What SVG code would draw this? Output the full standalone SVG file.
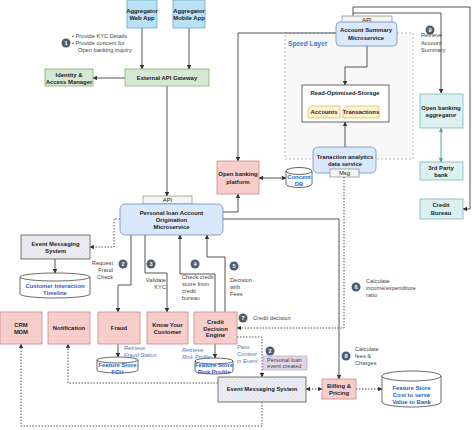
<svg xmlns="http://www.w3.org/2000/svg" width="474" height="430" viewBox="0 0 474 430">
<defs>
<style>
text{font-family:"Liberation Sans",Arial,sans-serif;}
.lbl{font-size:5.9px;font-weight:bold;fill:#222;text-anchor:middle;}
.ann{font-size:5.7px;fill:#444;}
.it{font-size:5.7px;fill:#4a7ebb;font-style:italic;}
.blu{font-size:5.9px;font-weight:bold;fill:#1f63c6;text-anchor:middle;}
.bt{font-size:5.6px;font-weight:bold;fill:#fff;text-anchor:middle;}
.bd{fill:#4f5d6e;}
.ln{fill:none;stroke:#555;stroke-width:1;}
.dt{fill:none;stroke:#555;stroke-width:1;stroke-dasharray:1.5,1.5;}
.pink{fill:#f8cecc;stroke:#c98a88;stroke-width:0.8;}
.green{fill:#d5e8d4;stroke:#82b366;stroke-width:0.8;}
.lb{fill:#dae8fc;stroke:#6c8ebf;stroke-width:0.8;}
.agg{fill:#b9e0f5;stroke:#6aa7c9;stroke-width:0.8;}
.teal{fill:url(#hatchT);stroke:#7fb5b5;stroke-width:0.8;}
.gray{fill:url(#hatchG);stroke:#666;stroke-width:0.9;}
.tab{fill:#f5f5f5;stroke:#888;stroke-width:0.7;}
.cyl{fill:#fff;stroke:#444;stroke-width:0.8;}
.note{fill:#fff2cc;stroke:#d6b656;stroke-width:0.7;}
</style>
<pattern id="hatchG" width="3" height="3" patternUnits="userSpaceOnUse" patternTransform="rotate(45)">
<rect width="3" height="3" fill="#ededf3"/><line x1="0" y1="0" x2="0" y2="3" stroke="#d2d2de" stroke-width="0.8"/>
</pattern>
<pattern id="hatchT" width="3" height="3" patternUnits="userSpaceOnUse" patternTransform="rotate(45)">
<rect width="3" height="3" fill="#def2f2"/><line x1="0" y1="0" x2="0" y2="3" stroke="#cbe8e8" stroke-width="0.8"/>
</pattern>
<marker id="ar" viewBox="0 0 6 6" refX="5.5" refY="3" markerWidth="4.5" markerHeight="4.5" markerUnits="userSpaceOnUse" orient="auto-start-reverse">
<path d="M0,0 L6,3 L0,6 z" fill="#333"/>
</marker>
<marker id="art" viewBox="0 0 6 6" refX="5.5" refY="3" markerWidth="4.5" markerHeight="4.5" markerUnits="userSpaceOnUse" orient="auto-start-reverse">
<path d="M0,0 L6,3 L0,6 z" fill="#5aa39a"/>
</marker>
</defs>
<rect width="474" height="430" fill="#fff"/>

<g id="speed-layer">
<rect x="285" y="33" width="128" height="126" fill="#f8f8f8" stroke="#aaa" stroke-width="0.8" stroke-dasharray="2,2"/>
<text x="288" y="45.5" style="font-size:6.6px;font-weight:bold;fill:#3d7cc9">Speed Layer</text>
</g>

<g id="connectors">
<path class="ln" d="M142,28 V69" marker-end="url(#ar)"/>
<path class="ln" d="M189,28 V69" marker-end="url(#ar)"/>
<path class="ln" d="M125,78 H93" marker-end="url(#ar)"/>
<path class="ln" d="M167,86 V196" marker-end="url(#ar)"/>
<path class="ln" d="M336,33 H238 V161" marker-end="url(#ar)"/>
<path class="ln" d="M353,16 V7 H470 V209 H463" marker-end="url(#ar)"/>
<path class="ln" d="M353,13 H441 V93" marker-end="url(#ar)"/>
<path class="ln" d="M367,46 V67 H345 V85" marker-end="url(#ar)"/>
<path class="ln" d="M345,147 V122" marker-end="url(#ar)"/>
<path d="M441,128 V162" fill="none" stroke="#5aa39a" stroke-width="1" marker-start="url(#art)" marker-end="url(#art)"/>
<path class="ln" d="M259,178 H286" marker-start="url(#ar)" marker-end="url(#ar)"/>
<path class="ln" d="M223,212 H238 V194" marker-end="url(#ar)"/>
<path class="ln" d="M223,219 H339 V379" marker-end="url(#ar)"/>
<path class="dt" d="M120,219 H114 V247 H90" marker-end="url(#ar)"/>
<path class="ln" d="M55,259 V273" marker-end="url(#ar)"/>
<path class="ln" d="M131,235 V285 H118 V312" marker-end="url(#ar)"/>
<path class="ln" d="M145,235 V273 H167 V312" marker-end="url(#ar)"/>
<path class="ln" d="M215,312 V274 H180 V235" marker-end="url(#ar)"/>
<path class="ln" d="M225,312 V257 H207 V235" marker-end="url(#ar)"/>
<path class="dt" d="M344,177 V328 H237" marker-end="url(#ar)"/>
<path class="ln" d="M118,344 V357" marker-end="url(#ar)"/>
<path class="ln" d="M215,344 V358" marker-end="url(#ar)"/>
<path class="dt" d="M237,337 H262 V377" marker-end="url(#ar)"/>
<path class="dt" d="M306,389 H322" marker-start="url(#ar)" marker-end="url(#ar)"/>
<path class="dt" d="M356,389 H382" marker-end="url(#ar)"/>
<path class="dt" d="M262,402 V426 H21 V344" marker-end="url(#ar)"/>
<path class="dt" d="M218,383 H68 V344" marker-end="url(#ar)"/>
</g>

<g id="aggregator-web-app">
<rect class="agg" x="127" y="0" width="30" height="28"/>
<text class="lbl" x="142" y="13">Aggregator</text>
<text class="lbl" x="142" y="20">Web App</text>
</g>
<g id="aggregator-mobile-app">
<rect class="agg" x="173" y="0" width="32" height="28"/>
<text class="lbl" x="189" y="13">Aggregator</text>
<text class="lbl" x="189" y="20">Mobile App</text>
</g>

<g id="step1">
<circle class="bd" cx="66" cy="43" r="4.5"/><text class="bt" x="66" y="45">1</text>
<text class="ann" x="72" y="38">•  Provide KYC Details</text>
<text class="ann" x="72" y="45">•  Provide concent for</text>
<text class="ann" x="78" y="52">Open banking inquiry</text>
</g>

<g id="identity-access-manager">
<rect class="green" x="45" y="69" width="48" height="17"/>
<text class="lbl" x="69" y="76.5">Identity &amp;</text>
<text class="lbl" x="69" y="83.5">Access Manager</text>
</g>
<g id="external-api-gateway">
<rect class="green" x="125" y="69" width="84" height="17"/>
<text class="lbl" x="167" y="80">External API Gateway</text>
</g>

<g id="account-summary-microservice">
<rect class="tab" x="342" y="16" width="50" height="8"/>
<text class="lbl" x="367" y="22" style="font-weight:normal">API</text>
<rect class="lb" x="336" y="22" width="61" height="24" rx="4"/>
<text class="lbl" x="366" y="32">Account Summary</text>
<text class="lbl" x="366" y="39.5">Microservice</text>
</g>

<g id="step9">
<circle class="bd" cx="430" cy="30" r="4.5"/><text class="bt" x="430" y="32">9</text>
<text class="ann" x="421" y="37">Retrieve</text>
<text class="ann" x="421" y="45">Account</text>
<text class="ann" x="421" y="52">Summary</text>
</g>

<g id="read-optimised-storage">
<rect x="302" y="85" width="87" height="37" fill="#fff" stroke="#444" stroke-width="0.8"/>
<text class="lbl" x="345" y="94.5">Read-Optimised-Storage</text>
<path class="note" d="M311,106 H340 V118 H308 V109 z"/>
<text class="lbl" x="324" y="114.3">Accounts</text>
<path class="note" d="M346,106 H379 V118 H343 V109 z"/>
<text class="lbl" x="361" y="114.3">Transactions</text>
</g>

<g id="transaction-analytics">
<rect class="lb" x="313" y="147" width="63" height="26" rx="5"/>
<text class="lbl" x="345" y="159">Tranaction analytics</text>
<text class="lbl" x="345" y="166">data service</text>
<rect class="tab" x="330" y="169" width="29" height="8"/>
<text class="lbl" x="344.5" y="175.2" style="font-weight:normal">Msg</text>
</g>

<g id="open-banking-aggregator">
<rect class="teal" x="420" y="94" width="43" height="34"/>
<text class="lbl" x="441" y="110">Open banking</text>
<text class="lbl" x="441" y="117">aggregator</text>
</g>
<g id="third-party-bank">
<rect class="teal" x="420" y="162" width="43" height="18"/>
<text class="lbl" x="441" y="170">3rd Party</text>
<text class="lbl" x="441" y="177">bank</text>
</g>
<g id="credit-bureau">
<rect class="teal" x="420" y="199" width="43" height="20"/>
<text class="lbl" x="441" y="207">Credit</text>
<text class="lbl" x="441" y="215">Bureau</text>
</g>

<g id="open-banking-platform">
<rect class="pink" x="217" y="161" width="42" height="33"/>
<text class="lbl" x="238" y="176">Open banking</text>
<text class="lbl" x="238" y="184">platform</text>
</g>
<g id="consent-db">
<path class="cyl" d="M286,171 a13,3.5 0 0 1 26,0 v13 a13,3.5 0 0 1 -26,0 z M286,171 a13,3.5 0 0 0 26,0"/>
<text class="blu" x="299" y="179">Concent</text>
<text class="blu" x="299" y="185.5">DB</text>
</g>

<g id="personal-loan-microservice">
<rect class="tab" x="143" y="196" width="49" height="8"/>
<text class="lbl" x="167.5" y="202" style="font-weight:normal">API</text>
<rect class="lb" x="120" y="204" width="103" height="31" rx="5"/>
<text class="lbl" x="171.5" y="215">Personal loan Account</text>
<text class="lbl" x="171.5" y="222">Origination</text>
<text class="lbl" x="171.5" y="229">Microservice</text>
</g>

<g id="event-messaging-left">
<rect class="gray" x="21" y="235" width="69" height="24"/>
<text class="lbl" x="55.5" y="245.5">Event Messaging</text>
<text class="lbl" x="55.5" y="253">System</text>
</g>
<g id="customer-interaction-timeline">
<path class="cyl" d="M20,277 a35,4 0 0 1 70,0 v17 a35,4 0 0 1 -70,0 z M20,277 a35,4 0 0 0 70,0"/>
<text class="blu" x="55" y="288">Customer Interaction</text>
<text class="blu" x="55" y="295">Timeline</text>
</g>

<g id="step2">
<circle class="bd" cx="123" cy="264" r="4.5"/><text class="bt" x="123" y="266">2</text>
<text class="ann" x="113" y="265" text-anchor="end">Request</text>
<text class="ann" x="113" y="272" text-anchor="end">Fraud</text>
<text class="ann" x="113" y="279" text-anchor="end">Check</text>
</g>
<g id="step3">
<circle class="bd" cx="151" cy="264" r="4.5"/><text class="bt" x="151" y="266">3</text>
<text class="ann" x="166" y="282" text-anchor="end">Validate</text>
<text class="ann" x="166" y="289" text-anchor="end">KYC</text>
</g>
<g id="step4">
<circle class="bd" cx="195" cy="264" r="4.5"/><text class="bt" x="195" y="266">4</text>
<text class="ann" x="182" y="279">Check credit</text>
<text class="ann" x="182" y="286">score from</text>
<text class="ann" x="182" y="293">credit</text>
<text class="ann" x="182" y="300">bureau</text>
</g>
<g id="step5">
<circle class="bd" cx="234" cy="266" r="4.5"/><text class="bt" x="234" y="268">5</text>
<text class="ann" x="230" y="282">Decision</text>
<text class="ann" x="230" y="289">with</text>
<text class="ann" x="230" y="296">Fees</text>
</g>
<g id="step6">
<circle class="bd" cx="356" cy="287" r="4.5"/><text class="bt" x="356" y="289">6</text>
<text class="ann" x="366" y="283">Calculate</text>
<text class="ann" x="366" y="290">income/expenditure</text>
<text class="ann" x="366" y="297">ratio</text>
</g>
<g id="step7">
<circle class="bd" cx="243" cy="318" r="4.5"/><text class="bt" x="243" y="320">7</text>
<text class="ann" x="253" y="320">Credit decision</text>
</g>
<g id="step8">
<circle class="bd" cx="346" cy="356" r="4.5"/><text class="bt" x="346" y="358">8</text>
<text class="ann" x="355" y="351">Calculate</text>
<text class="ann" x="355" y="358">fees &amp;</text>
<text class="ann" x="355" y="365">Charges</text>
</g>

<g id="crm-mdm">
<rect class="pink" x="0" y="312" width="42" height="32"/>
<text class="lbl" x="21" y="327">CRM</text>
<text class="lbl" x="21" y="334">MDM</text>
</g>
<g id="notification">
<rect class="pink" x="48" y="312" width="42" height="32"/>
<text class="lbl" x="69" y="330">Notification</text>
</g>
<g id="fraud">
<rect class="pink" x="98" y="312" width="42" height="32"/>
<text class="lbl" x="119" y="330">Fraud</text>
</g>
<g id="know-your-customer">
<rect class="pink" x="147" y="312" width="41" height="32"/>
<text class="lbl" x="167.5" y="327">Know Your</text>
<text class="lbl" x="167.5" y="334">Customer</text>
</g>
<g id="credit-decision-engine">
<rect class="pink" x="194" y="312" width="43" height="32"/>
<text class="lbl" x="215.5" y="324">Credit</text>
<text class="lbl" x="215.5" y="330.5">Decision</text>
<text class="lbl" x="215.5" y="337">Engine</text>
</g>

<g id="feature-store-fcu">
<path class="cyl" d="M97,360 a20.5,3 0 0 1 41,0 v10 a20.5,3 0 0 1 -41,0 z M97,360 a20.5,3 0 0 0 41,0"/>
<text class="blu" x="117.5" y="367">Feature Store</text>
<text class="blu" x="117.5" y="374">FCU</text>
</g>
<text class="it" x="124" y="350">Retrieve</text>
<text class="it" x="124" y="356.5">Fraud Status</text>

<g id="feature-store-risk">
<path class="cyl" d="M195,361 a19,3 0 0 1 38,0 v10 a19,3 0 0 1 -38,0 z M195,361 a19,3 0 0 0 38,0"/>
<text class="blu" x="214" y="367">Feature Store</text>
<text class="blu" x="214" y="374">Risk Profile</text>
</g>
<text class="it" x="182" y="352">Retrieve</text>
<text class="it" x="182" y="359">Risk Profile</text>

<text class="it" x="237" y="349">Pass</text>
<text class="it" x="237" y="355.5">Context</text>
<text class="it" x="237" y="362.5">in Event</text>

<g id="event-created-note">
<circle class="bd" cx="270" cy="351" r="4.5"/><text class="bt" x="270" y="353">2</text>
<rect x="263" y="356" width="44" height="14" fill="#e1d5e7" stroke="#b9a3c6" stroke-width="0.7"/>
<text class="ann" x="267" y="361.5">Personal loan</text>
<text class="ann" x="267" y="368">event created</text>
</g>

<g id="event-messaging-bottom">
<rect class="gray" x="218" y="377" width="88" height="25"/>
<text class="lbl" x="262" y="391.3">Event Messaging System</text>
</g>
<g id="billing-pricing">
<rect class="pink" x="322" y="379" width="34" height="20"/>
<text class="lbl" x="339" y="388">Billing &amp;</text>
<text class="lbl" x="339" y="395">Pricing</text>
</g>
<g id="feature-store-cost">
<path class="cyl" d="M382,376 a29.5,5 0 0 1 59,0 v26 a29.5,5 0 0 1 -59,0 z M382,376 a29.5,5 0 0 0 59,0"/>
<text class="blu" x="411.5" y="390">Feature Store</text>
<text class="blu" x="411.5" y="397">Cost to serve</text>
<text class="blu" x="411.5" y="404">Value to Bank</text>
</g>
</svg>
